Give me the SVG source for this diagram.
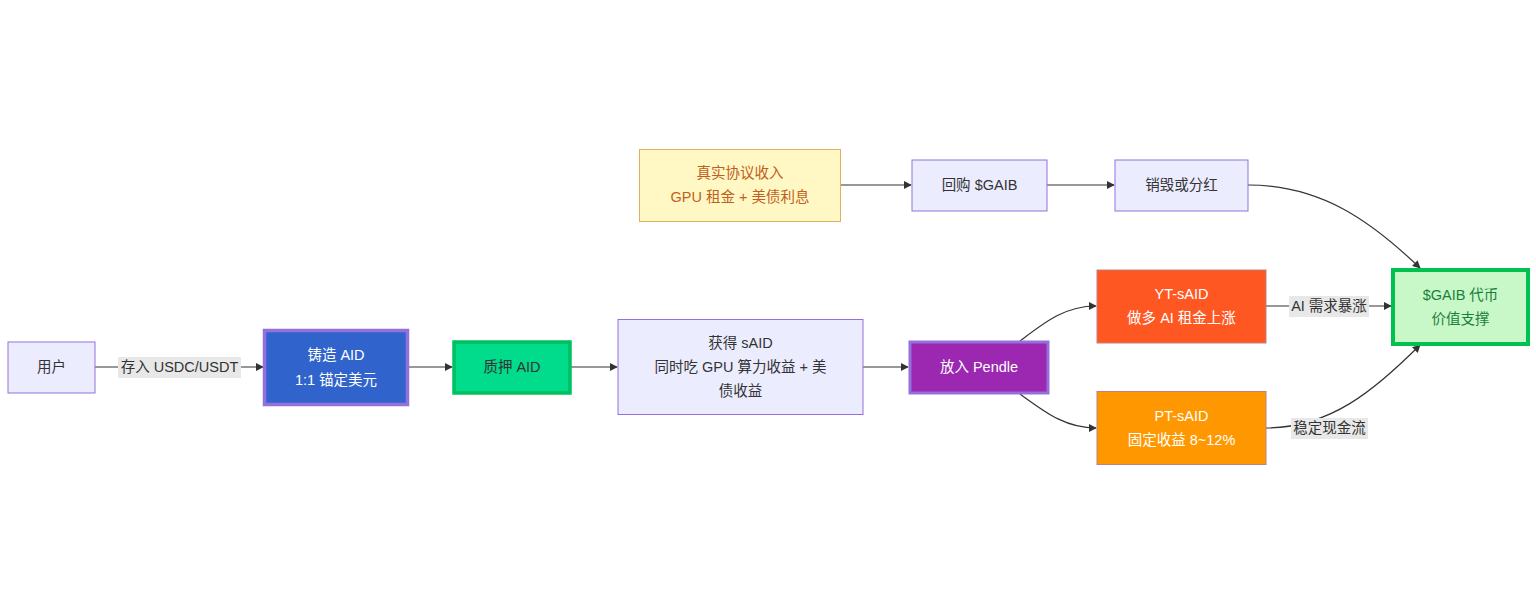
<svg xmlns="http://www.w3.org/2000/svg" width="1536" height="614" viewBox="0 0 1536 614">
<defs>
<marker id="arr" viewBox="0 0 10 10" refX="9" refY="5" markerWidth="8" markerHeight="8" orient="auto" markerUnits="userSpaceOnUse"><path d="M0,0 L10,5 L0,10 z" fill="#333"/></marker>
<style>
text{font-family:"Liberation Sans","Noto Sans CJK SC",sans-serif;font-size:14.5px;text-anchor:middle;dominant-baseline:central;fill:#333}
.def{fill:#ECECFF;stroke:#9370DB;stroke-width:1}
.e{fill:none;stroke:#333;stroke-width:1.2;marker-end:url(#arr)}
.lb{fill:#E8E8E8}
text.w{fill:#fff}
text.g{fill:#1B7F3B}
text.o{fill:#C06020}
</style>
</defs>
<rect width="1536" height="614" fill="#fff"/>
<g id="connectors">
<path class="e" d="M95,367 L263,367"/>
<path class="e" d="M408,367 L452,367"/>
<path class="e" d="M571,367 L617,367"/>
<path class="e" d="M863,367 L908,367"/>
<path class="e" d="M1020,341 C1045,322 1065,306 1096,306"/>
<path class="e" d="M1020,394 C1045,412 1065,428 1096,428"/>
<path class="e" d="M1266,306 L1391,306"/>
<path class="e" d="M1266,428 C1330,428 1375,390 1420,345"/>
<path class="e" d="M841,185 L911,185"/>
<path class="e" d="M1047,185 L1114,185"/>
<path class="e" d="M1248,185 C1320,185 1370,220 1420,268"/>
<rect class="lb" x="118" y="357" width="123" height="21"/>
<text x="179.5" y="367">存入 USDC/USDT</text>
<rect class="lb" x="1289" y="296" width="80" height="21"/>
<text x="1329" y="306">AI 需求暴涨</text>
<rect class="lb" x="1291" y="418" width="77" height="21"/>
<text x="1329.5" y="428">稳定现金流</text>
</g>
<g id="user"><rect class="def" x="8" y="342" width="87" height="51"/><text x="51.5" y="367">用户</text></g>
<g id="mint"><rect x="264.5" y="330.5" width="143" height="74" fill="#3064CC" stroke="#9370DB" stroke-width="3.5"/><text class="w" x="336" y="355">铸造 AID</text><text class="w" x="336" y="380">1:1 锚定美元</text></g>
<g id="stake"><rect x="454" y="342" width="116" height="51" fill="#00DB8C" stroke="#00C060" stroke-width="3.5"/><text x="512" y="367">质押 AID</text></g>
<g id="said"><rect class="def" x="618" y="319.5" width="245" height="95"/><text x="740.5" y="343">获得 sAID</text><text x="740.5" y="367">同时吃 GPU 算力收益 + 美</text><text x="740.5" y="391">债收益</text></g>
<g id="pendle"><rect x="910" y="342" width="138" height="51" fill="#9C27B0" stroke="#9370DB" stroke-width="3"/><text class="w" x="979" y="367">放入 Pendle</text></g>
<g id="yt"><rect x="1097" y="270" width="169" height="73" fill="#FF5722" stroke="#C08080" stroke-width="1"/><text class="w" x="1181.5" y="294">YT-sAID</text><text class="w" x="1181.5" y="318">做多 AI 租金上涨</text></g>
<g id="pt"><rect x="1097" y="391.5" width="169" height="73" fill="#FF9800" stroke="#C08080" stroke-width="1"/><text class="w" x="1181.5" y="416">PT-sAID</text><text class="w" x="1181.5" y="440">固定收益 8~12%</text></g>
<g id="gaib"><rect x="1393" y="270" width="135" height="74" fill="#C8F8C8" stroke="#00C050" stroke-width="4"/><text class="g" x="1460.5" y="295">$GAIB 代币</text><text class="g" x="1460.5" y="319">价值支撑</text></g>
<g id="revenue"><rect x="639.5" y="149.5" width="201" height="72" fill="#FFF8C4" stroke="#E0B060" stroke-width="1"/><text class="o" x="740" y="173">真实协议收入</text><text class="o" x="740" y="197">GPU 租金 + 美债利息</text></g>
<g id="buyback"><rect class="def" x="912" y="160" width="135" height="51"/><text x="979.5" y="185">回购 $GAIB</text></g>
<g id="burn"><rect class="def" x="1115" y="160" width="133" height="51"/><text x="1181.5" y="185">销毁或分红</text></g>
</svg>
